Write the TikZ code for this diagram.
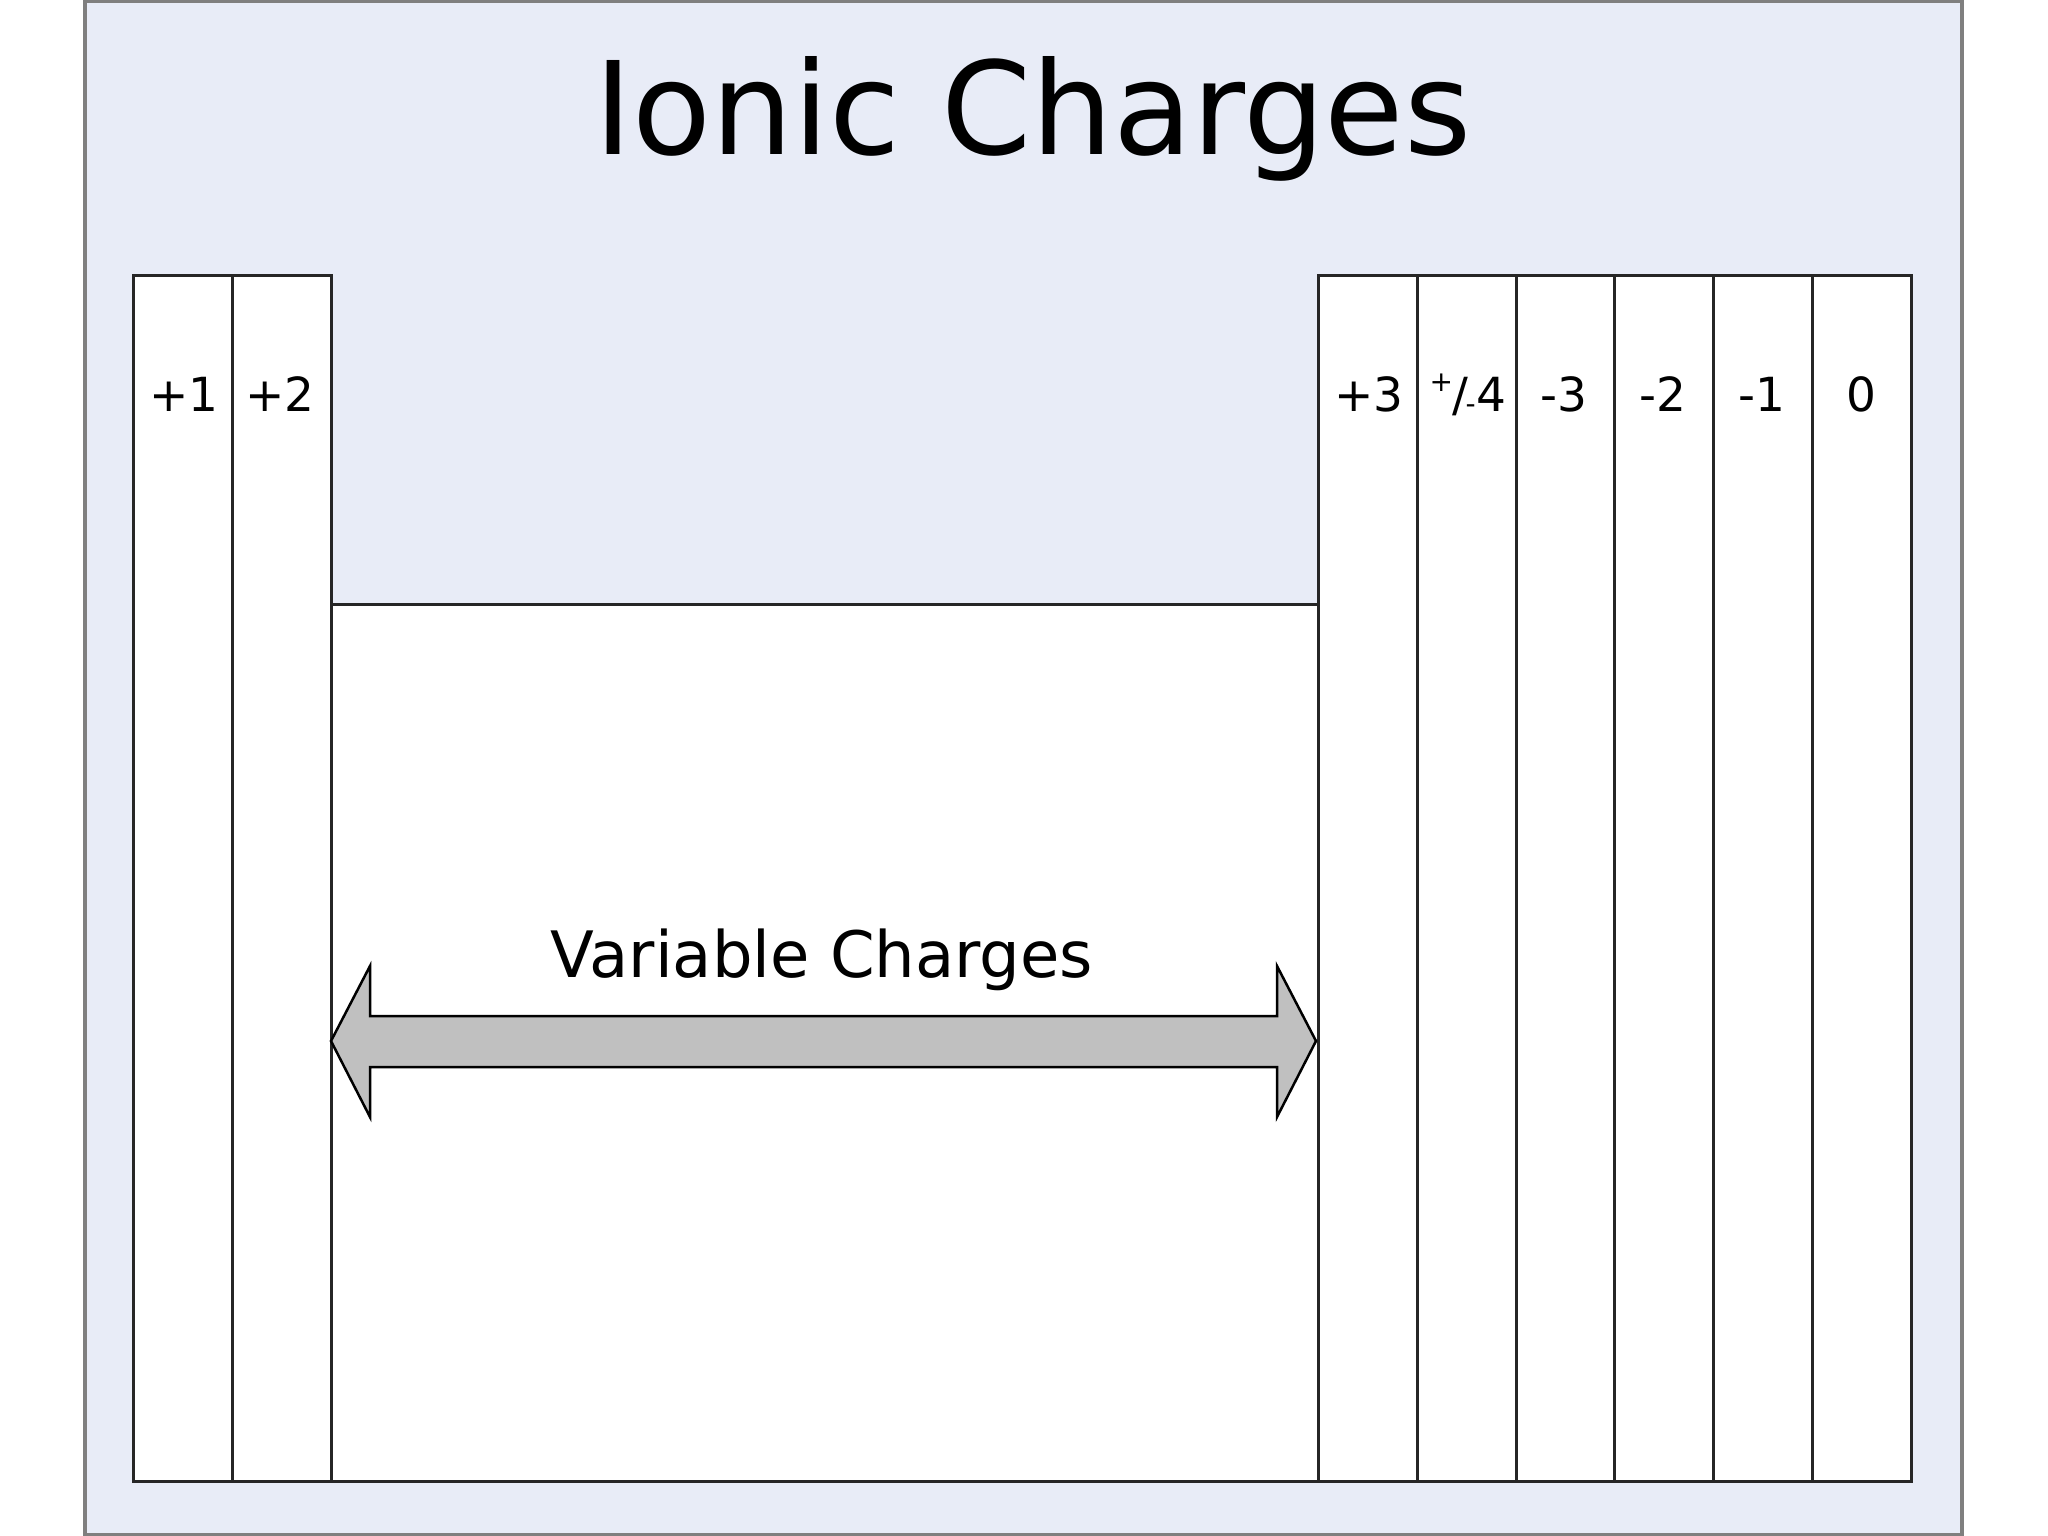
\documentclass[tikz,border=0pt]{standalone}
\usepackage{fontspec}
\setmainfont{DejaVu Sans}
\definecolor{bgblue}{HTML}{E8ECF7}
\definecolor{framegray}{HTML}{7F7F7F}
\definecolor{arrowgray}{HTML}{C0C0C0}
\begin{document}
\begin{tikzpicture}[x=1pt,y=-1pt,
  col/.style={draw=black!85, line width=2.8pt, fill=white, inner sep=0pt, anchor=north west, minimum width=99pt, minimum height=1206pt},
  lbl/.style={anchor=base, inner sep=0pt, font=\fontsize{47}{56}\selectfont},
  title/.style={anchor=base, inner sep=0pt, font=\fontsize{129}{150}\selectfont},
  sub/.style={anchor=base, inner sep=0pt, font=\fontsize{64}{76}\selectfont}]
\useasboundingbox (0,0) rectangle (2048,1536);
\fill[white] (0,0) rectangle (2048,1536);
\draw[fill=bgblue, draw=framegray, line width=3.5pt] (85,1.5) rectangle (1962,1534.5);
\node[title] (title) at (1033,154) {Ionic Charges};
% middle block
\node[col, minimum width=987pt, minimum height=877pt] (mid) at (330,603) {};
% columns
\node[col] (c1) at (132,274) {};
\node[col] (c2) at (231,274) {};
\node[col] (c3) at (1317,274) {};
\node[col] (c4) at (1416,274) {};
\node[col] (c5) at (1515,274) {};
\node[col] (c6) at (1613,274) {};
\node[col] (c7) at (1712,274) {};
\node[col] (c8) at (1811,274) {};
% labels
\node[lbl] (l1) at (184,411) {+1};
\node[lbl] (l2) at (280,411) {+2};
\node[lbl] (l3) at (1369,411) {+3};
\node[lbl] (l4) at (1468,411) {\raisebox{0.42em}{\fontsize{28}{30}\selectfont +}\kern-0.02em/\kern-0.05em\raisebox{-0.05em}{\fontsize{28}{30}\selectfont -}\kern0.02em4};
\node[lbl] (l5) at (1564,411) {-3};
\node[lbl] (l6) at (1663,411) {-2};
\node[lbl] (l7) at (1762,411) {-1};
\node[lbl] (l8) at (1861,411) {0};
% arrow
\node[sub] (var) at (822,977) {Variable Charges};
\coordinate (tipL) at (331,1041);
\coordinate (tipR) at (1316,1041);
\draw[fill=arrowgray, draw=black, line width=2.5pt, line join=miter]
  (tipL) -- (370,966) -- (370,1016) -- (1277,1016) -- (1277,966) -- (tipR)
  -- (1277,1117) -- (1277,1067) -- (370,1067) -- (370,1117) -- cycle;
\end{tikzpicture}
\end{document}
